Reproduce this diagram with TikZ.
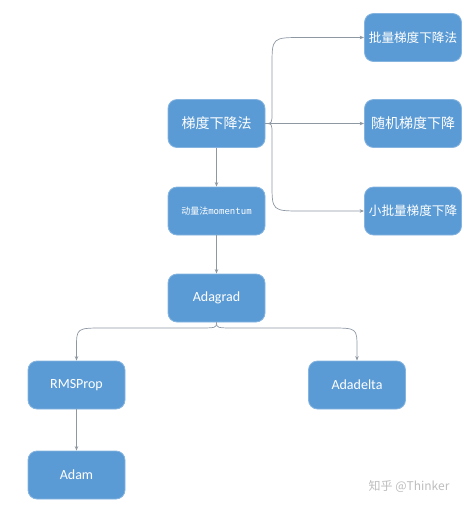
\documentclass[tikz,border=0pt]{standalone}
\usepackage{fontspec}
\setmainfont{Carlito}
\newfontfamily\cjk{Noto Sans CJK SC}
\newfontfamily\monof{DejaVu Sans Mono}
\usetikzlibrary{arrows.meta}
\definecolor{boxblue}{HTML}{5B9BD5}
\definecolor{boxedge}{HTML}{86B4E0}
\definecolor{linegrey}{HTML}{8E98A3}
\definecolor{wmgrey}{HTML}{BDBDBD}
\tikzset{
  algbox/.style={rectangle, rounded corners=9pt, fill=boxblue, draw=boxedge, line width=0.8pt,
    minimum width=97pt, minimum height=48pt, inner sep=0pt, text=white, font=\fontsize{14}{16}\selectfont},
  conn/.style={draw=linegrey, line width=0.7pt, -{Stealth[length=4.5pt,width=3.5pt]}},
}
\begin{document}
\begin{tikzpicture}[x=1pt,y=-1pt]
\useasboundingbox (0,0) rectangle (474,512);
\node[algbox, font=\cjk\fontsize{14}{16}\selectfont] (gd) at (216.5,123.5) {梯度下降法};
\node[algbox, font=\cjk\fontsize{12.6}{15}\selectfont] (bgd) at (413,37.5) {批量梯度下降法};
\node[algbox, font=\cjk\fontsize{14}{16}\selectfont] (sgd) at (413,123.5) {随机梯度下降};
\node[algbox, font=\cjk\fontsize{12.6}{15}\selectfont] (mbgd) at (413,211) {小批量梯度下降};
\node[algbox, font=\fontsize{9}{11}\selectfont] (mom) at (216.5,211) {{\cjk 动量法}{\monof momentum}};
\node[algbox] (ada) at (216.5,298) {Adagrad};
\node[algbox] (rms) at (76.5,385) {RMSProp};
\node[algbox] (adad) at (357,385) {Adadelta};
\node[algbox] (adam) at (76.5,475) {Adam};
\node[text=wmgrey, font=\cjk\fontsize{12}{14}\selectfont, anchor=center] (wm) at (409,486) {知乎 @Thinker};
% connectors
\draw[conn] (gd.east) .. controls (272,123.5) .. (272,112) -- (272,66) .. controls (272,37.5) .. (302,37.5) -- (bgd.west);
\draw[conn] (gd.east) -- (sgd.west);
\draw[conn] (gd.east) .. controls (272,123.5) .. (272,135) -- (272,183) .. controls (272,211) .. (302,211) -- (mbgd.west);
\draw[conn] (gd.south) -- (mom.north);
\draw[conn] (mom.south) -- (ada.north);
\draw[conn] (ada.south) .. controls (216.5,328) .. (196,328) -- (104,328) .. controls (76.5,328) .. (76.5,348) -- (rms.north);
\draw[conn] (ada.south) .. controls (216.5,328) .. (237,328) -- (330,328) .. controls (357,328) .. (357,348) -- (adad.north);
\draw[conn] (rms.south) -- (adam.north);
\end{tikzpicture}
\end{document}
